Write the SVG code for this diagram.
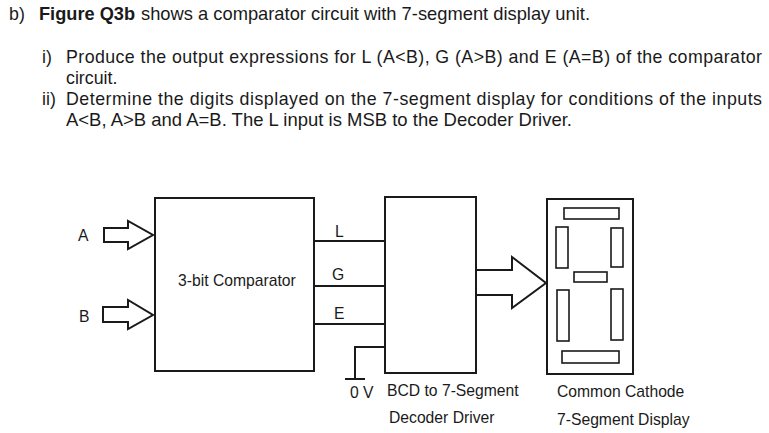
<svg xmlns="http://www.w3.org/2000/svg" width="769" height="433" viewBox="0 0 769 433">
<style>
text{font-family:"Liberation Sans",Arial,sans-serif;fill:#1a1a1a}
.h{font-size:17.8px}
.l{font-size:15.7px}
.s{fill:#fff;stroke:#1a1a1a;stroke-width:2}
.t{fill:#fff;stroke:#1a1a1a;stroke-width:1.6}
.a{fill:#fff;stroke:#1a1a1a;stroke-width:2}
.w{fill:none;stroke:#1a1a1a;stroke-width:2}
</style>
<rect width="769" height="433" fill="#fff"/>
<g id="question">
<text class="h" x="9" y="20">b)</text>
<text class="h" x="39" y="20" font-weight="bold" textLength="96" lengthAdjust="spacingAndGlyphs">Figure Q3b</text>
<text class="h" x="141" y="20" textLength="449" lengthAdjust="spacingAndGlyphs">shows a comparator circuit with 7-segment display unit.</text>
<text class="h" x="42" y="63">i)</text>
<text class="h" x="66" y="63" textLength="696">Produce the output expressions for L (A&lt;B), G (A&gt;B) and E (A=B) of the comparator</text>
<text class="h" x="66" y="84">circuit.</text>
<text class="h" x="42" y="105">ii)</text>
<text class="h" x="66" y="105" textLength="696">Determine the digits displayed on the 7-segment display for conditions of the inputs</text>
<text class="h" x="66" y="126" textLength="506" lengthAdjust="spacingAndGlyphs">A&lt;B, A&gt;B and A=B. The L input is MSB to the Decoder Driver.</text>
</g>
<g id="connectors">
<path class="w" d="M314 241H385M314 286H385M314 324H385"/>
<path class="w" d="M385 347H355V379M345 379H365"/>
<path class="w" d="M477 270H512V257L546 283L512 308V295H477"/>
</g>
<g id="input-a">
<text class="l" x="78" y="241">A</text>
<path class="a" d="M104 228H128V221L153 235L128 249V242H104Z"/>
</g>
<g id="input-b">
<text class="l" x="79" y="322">B</text>
<path class="a" d="M103 307H128V300L153 315L128 329V322H103Z"/>
</g>
<g id="comparator">
<rect class="s" x="155" y="198" width="159" height="173"/>
<text class="l" x="178" y="286">3-bit Comparator</text>
<text class="l" x="335" y="237">L</text>
<text class="l" x="332" y="280">G</text>
<text class="l" x="334" y="319">E</text>
</g>
<g id="decoder">
<rect class="s" x="385" y="197" width="91" height="176"/>
<text class="l" x="350" y="398">0 V</text>
<text class="l" x="387" y="396">BCD to 7-Segment</text>
<text class="l" x="389" y="423">Decoder Driver</text>
</g>
<g id="display">
<rect class="s" x="547" y="199" width="86" height="175"/>
<rect class="t" x="564" y="208" width="55" height="11"/>
<rect class="t" x="556" y="227" width="12" height="41"/>
<rect class="t" x="611" y="228" width="12" height="39"/>
<rect class="t" x="574" y="272" width="33" height="10"/>
<rect class="t" x="557" y="290" width="12" height="51"/>
<rect class="t" x="611" y="289" width="12" height="51"/>
<rect class="t" x="562" y="351" width="57" height="12"/>
<text class="l" x="557" y="397">Common Cathode</text>
<text class="l" x="557" y="425">7-Segment Display</text>
</g>
</svg>
